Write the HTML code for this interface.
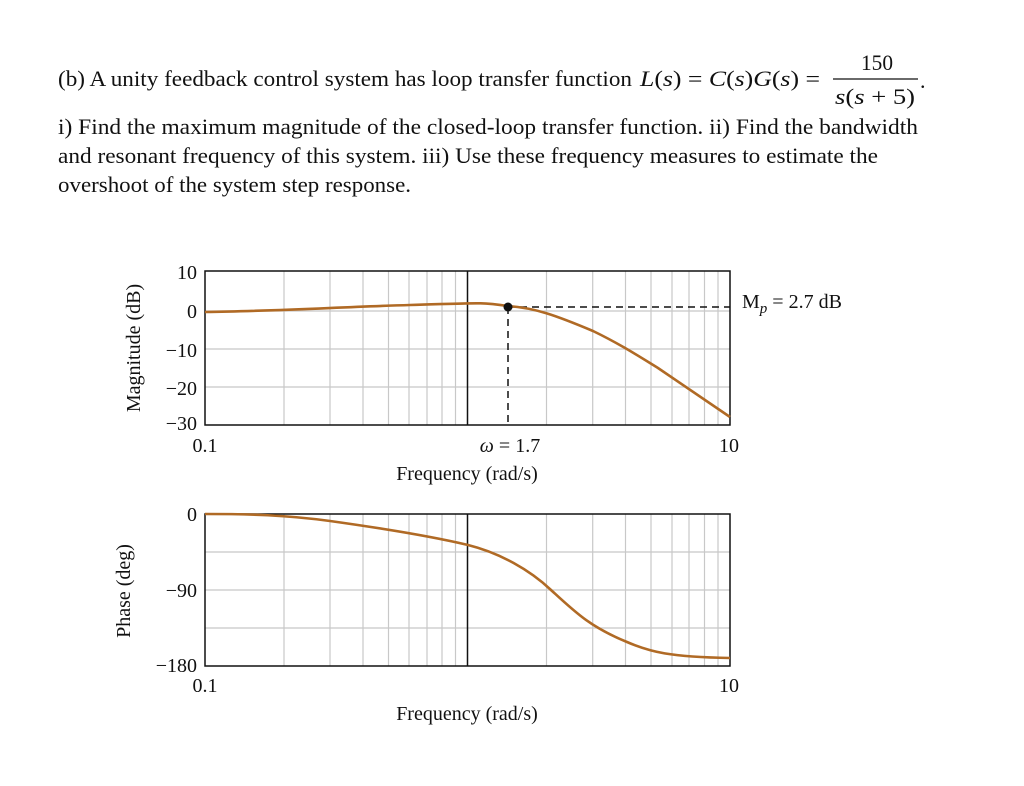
<!DOCTYPE html>
<html><head><style>body{margin:0;background:#fff}svg{display:block}text{font-family:"Liberation Serif",serif;fill:#111}</style></head><body>
<svg width="1024" height="786" viewBox="0 0 1024 786" xmlns="http://www.w3.org/2000/svg">
<g font-size="22">
<text x="58" y="86" textLength="574" lengthAdjust="spacingAndGlyphs">(b) A unity feedback control system has loop transfer function</text>
<text x="640" y="86" textLength="180" lengthAdjust="spacingAndGlyphs"><tspan font-style="italic">L</tspan>(<tspan font-style="italic">s</tspan>) = <tspan font-style="italic">C</tspan>(<tspan font-style="italic">s</tspan>)<tspan font-style="italic">G</tspan>(<tspan font-style="italic">s</tspan>) =</text>
<text x="861" y="70" textLength="32" lengthAdjust="spacingAndGlyphs">150</text>
<line x1="833" y1="79" x2="918" y2="79" stroke="#111" stroke-width="1.3"/>
<text x="835" y="104" textLength="80" lengthAdjust="spacingAndGlyphs"><tspan font-style="italic">s</tspan>(<tspan font-style="italic">s</tspan> + 5)</text>
<text x="920" y="88">.</text>
<text x="58" y="134" textLength="860" lengthAdjust="spacingAndGlyphs">i) Find the maximum magnitude of the closed-loop transfer function.  ii) Find the bandwidth</text>
<text x="58" y="163" textLength="820" lengthAdjust="spacingAndGlyphs">and resonant frequency of this system. iii) Use these frequency measures to estimate the</text>
<text x="58" y="192" textLength="353" lengthAdjust="spacingAndGlyphs">overshoot of the system step response.</text>
</g>
<g stroke="#c8c8c8" stroke-width="1.2">
<path d="M284 271V425M330 271V425M363 271V425M388.5 271V425M409 271V425M427 271V425M442 271V425M455.5 271V425M546.5 271V425M592.7 271V425M625.5 271V425M651 271V425M672 271V425M689 271V425M704.5 271V425M718 271V425M205 311H730M205 349H730M205 387H730"/>
<path d="M284 514V666M330 514V666M363 514V666M388.5 514V666M409 514V666M427 514V666M442 514V666M455.5 514V666M546.5 514V666M592.7 514V666M625.5 514V666M651 514V666M672 514V666M689 514V666M704.5 514V666M718 514V666M205 552H730M205 590H730M205 628H730"/>
</g>
<g stroke="#111" fill="none" stroke-width="1.5">
<rect x="205" y="271" width="525" height="154"/>
<line x1="467.5" y1="271" x2="467.5" y2="425"/>
<rect x="205" y="514" width="525" height="152"/>
<line x1="467.5" y1="514" x2="467.5" y2="666"/>
<path d="M508 307H730M508 307V425" stroke-dasharray="7,5"/>
</g>
<path d="M205 312 C280 311 340 307 410 305 S480 302 508 306 C535 308 555 315 593 331 C620 344 640 357 658 368 L730 417" stroke="#b06a25" stroke-width="2.6" fill="none"/>
<circle cx="508" cy="307" r="4.5" fill="#111"/>
<path d="M205 514 C250 514 286 515 330 521 C380 528 430 536 468 545 C500 553 530 570 551 590 C575 612 590 627 627 642 C650 652 670 657 730 658" stroke="#b06a25" stroke-width="2.6" fill="none"/>
<g font-size="20" text-anchor="end">
<text x="197" y="279">10</text><text x="197" y="318">0</text><text x="197" y="357">−10</text><text x="197" y="395">−20</text><text x="197" y="430">−30</text>
<text x="197" y="521">0</text><text x="197" y="597">−90</text><text x="197" y="672">−180</text>
</g>
<g font-size="20" text-anchor="middle">
<text x="205" y="452">0.1</text><text x="729" y="452">10</text>
<text x="510" y="452"><tspan font-style="italic">ω</tspan> = 1.7</text>
<text x="467" y="480">Frequency (rad/s)</text>
<text x="205" y="692">0.1</text><text x="729" y="692">10</text>
<text x="467" y="720">Frequency (rad/s)</text>
<text transform="translate(140,348) rotate(-90)">Magnitude (dB)</text>
<text transform="translate(130,591) rotate(-90)">Phase (deg)</text>
</g>
<text x="742" y="308" font-size="20">M<tspan font-size="15" dy="5" font-style="italic">p</tspan><tspan dy="-5"> = 2.7 dB</tspan></text>
</svg>
</body></html>
